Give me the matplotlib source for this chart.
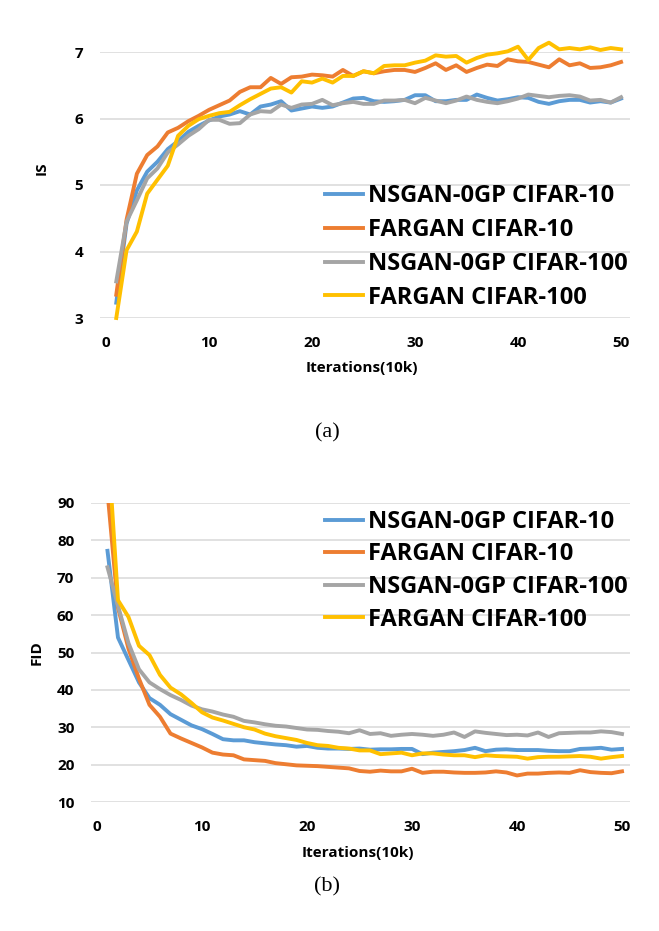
import matplotlib
matplotlib.use("Agg")
import matplotlib.pyplot as plt

plt.rcParams['font.family'] = ['Open Sans', 'DejaVu Sans']

iters = list(range(1, 51))

# IS curves (top panel)
is_nsgan_c10 = [3.23, 4.42, 4.92, 5.2, 5.35, 5.54, 5.66, 5.8, 5.89, 5.97,
                6.03, 6.06, 6.11, 6.06, 6.18, 6.21, 6.26, 6.12, 6.15, 6.18,
                6.16, 6.18, 6.24, 6.3, 6.31, 6.26, 6.25, 6.26, 6.28, 6.35,
                6.35, 6.26, 6.26, 6.28, 6.28, 6.36, 6.31, 6.27, 6.29, 6.32,
                6.31, 6.25, 6.22, 6.26, 6.28, 6.28, 6.24, 6.26, 6.24, 6.3]
is_fargan_c10 = [3.35, 4.48, 5.17, 5.45, 5.58, 5.79, 5.86, 5.96, 6.04, 6.13,
                 6.2, 6.27, 6.4, 6.47, 6.47, 6.61, 6.52, 6.62, 6.63, 6.66,
                 6.65, 6.63, 6.73, 6.64, 6.71, 6.68, 6.71, 6.73, 6.73, 6.7,
                 6.76, 6.83, 6.73, 6.8, 6.7, 6.76, 6.81, 6.79, 6.89, 6.86,
                 6.85, 6.81, 6.77, 6.89, 6.8, 6.83, 6.76, 6.77, 6.8, 6.85]
is_nsgan_c100 = [3.55, 4.45, 4.77, 5.1, 5.25, 5.49, 5.61, 5.74, 5.84, 5.98,
                 5.98, 5.92, 5.93, 6.06, 6.11, 6.1, 6.21, 6.16, 6.21, 6.22,
                 6.28, 6.2, 6.23, 6.25, 6.22, 6.22, 6.27, 6.27, 6.28, 6.23,
                 6.31, 6.27, 6.23, 6.27, 6.33, 6.28, 6.25, 6.23, 6.26, 6.3,
                 6.36, 6.34, 6.32, 6.34, 6.35, 6.33, 6.27, 6.28, 6.24, 6.32]
is_fargan_c100 = [3.0, 4.02, 4.3, 4.87, 5.08, 5.29, 5.74, 5.89, 5.99, 6.04,
                  6.08, 6.1, 6.2, 6.29, 6.37, 6.45, 6.47, 6.39, 6.56, 6.54,
                  6.6, 6.54, 6.64, 6.64, 6.71, 6.68, 6.79, 6.8, 6.8, 6.84,
                  6.87, 6.95, 6.93, 6.94, 6.84, 6.91, 6.96, 6.98, 7.01, 7.08,
                  6.88, 7.06, 7.14, 7.04, 7.06, 7.04, 7.07, 7.03, 7.06, 7.04]

# FID curves (bottom panel)
fid_nsgan_c10 = [77.2, 54, 48, 42, 37.8, 36, 33.5, 32, 30.5, 29.5,
                 28.2, 26.8, 26.5, 26.5, 26, 25.7, 25.4, 25.2, 24.8, 25,
                 24.5, 24.3, 24.3, 24.2, 24.3, 24.0, 24.1, 24.1, 24.2, 24.2,
                 22.8, 23.2, 23.4, 23.6, 23.9, 24.5, 23.6, 24.0, 24.1, 23.9,
                 23.9, 23.9, 23.7, 23.6, 23.6, 24.2, 24.3, 24.5, 24.0, 24.2]
fid_fargan_c10 = [93, 62, 51, 43, 36, 32.8, 28.3, 27, 25.8, 24.6,
                  23.2, 22.7, 22.5, 21.4, 21.2, 21, 20.4, 20.1, 19.8, 19.7,
                  19.6, 19.4, 19.2, 19.0, 18.3, 18.1, 18.4, 18.2, 18.2, 18.9,
                  17.8, 18.1, 18.1, 17.9, 17.8, 17.8, 17.9, 18.2, 17.9, 17.1,
                  17.6, 17.6, 17.8, 17.9, 17.8, 18.5, 18.0, 17.8, 17.7, 18.2]
fid_nsgan_c100 = [72.8, 62.5, 52.5, 45.5, 42, 40.2, 38.6, 37.3, 35.8, 34.8,
                  34.2, 33.4, 32.8, 31.7, 31.3, 30.8, 30.4, 30.2, 29.8, 29.4,
                  29.3, 29.0, 28.8, 28.4, 29.2, 28.2, 28.4, 27.7, 28.0, 28.2,
                  28.0, 27.7, 28.0, 28.6, 27.4, 28.9, 28.5, 28.2, 27.9, 28.0,
                  27.8, 28.6, 27.4, 28.4, 28.5, 28.6, 28.6, 28.9, 28.7, 28.2]
fid_fargan_c100 = [108, 64, 59.5, 51.8, 49.3, 44, 40.6, 38.8, 36.5, 34,
                   32.6, 31.8, 30.9, 30, 29.4, 28.3, 27.6, 27.1, 26.6, 25.8,
                   25.2, 25.0, 24.5, 24.3, 23.8, 23.8, 22.8, 23.0, 23.2, 22.5,
                   23.0, 23.0, 22.7, 22.5, 22.5, 22.0, 22.5, 22.3, 22.2, 22.1,
                   21.6, 22.0, 22.1, 22.1, 22.2, 22.3, 22.1, 21.6, 22.0, 22.3]

labels = ['NSGAN-0GP CIFAR-10', 'FARGAN CIFAR-10',
          'NSGAN-0GP CIFAR-100', 'FARGAN CIFAR-100']
colors = ['#5B9BD5', '#ED7D31', '#A5A5A5', '#FFC000']

W, H = 659, 931
fig = plt.figure(figsize=(W / 100, H / 100), dpi=100)


def style_axes(ax, yticks):
    for s in ax.spines.values():
        s.set_visible(False)
    ax.set_yticks(yticks)
    ax.set_xticks([0, 10, 20, 30, 40, 50])
    ax.grid(axis='y', color='#D9D9D9', linewidth=1.1)
    ax.set_axisbelow(True)
    ax.tick_params(length=0, labelsize=11)
    ax.tick_params(axis='x', pad=13)
    ax.tick_params(axis='y', pad=12)
    for t in ax.get_xticklabels() + ax.get_yticklabels():
        t.set_fontweight('bold')


def add_legend(ax, top_px, spacing):
    ax.legend(loc='upper left', bbox_to_anchor=(325 / W, 1 - top_px / H),
              bbox_transform=fig.transFigure, frameon=False, borderpad=0,
              borderaxespad=0, handlelength=1.6, handletextpad=0.2,
              labelspacing=spacing, prop={'weight': 'bold', 'size': 17})


# top panel: IS
ax1 = fig.add_axes([100 / W, 1 - 318 / H, 530 / W, 266 / H])
series_is = [is_nsgan_c10, is_fargan_c10, is_nsgan_c100, is_fargan_c100]
for ys, c, lab in zip(series_is, colors, labels):
    ax1.plot(iters, ys, color=c, lw=2.8, label=lab, clip_on=False,
             solid_joinstyle='round')
ax1.set_xlim(-0.58, 50.87)
ax1.set_ylim(3, 7)
style_axes(ax1, [3, 4, 5, 6, 7])
add_legend(ax1, 184, 0.42)
fig.text(42 / W, 1 - 168 / H, 'IS', rotation=90, ha='center', va='center',
         fontsize=11, fontweight='bold')
fig.text(362 / W, 1 - 368 / H, 'Iterations(10k)', ha='center', va='center',
         fontsize=11, fontweight='bold')
fig.text(327 / W, 1 - 433 / H, '(a)', ha='center', va='center',
         fontsize=16, family='Liberation Serif')

# bottom panel: FID
ax2 = fig.add_axes([91 / W, 1 - 802 / H, 539 / W, 299 / H])
series_fid = [fid_nsgan_c10, fid_fargan_c10, fid_nsgan_c100, fid_fargan_c100]
for ys, c, lab in zip(series_fid, colors, labels):
    ax2.plot(iters, ys, color=c, lw=2.8, label=lab, solid_joinstyle='round')
ax2.set_xlim(-0.57, 50.76)
ax2.set_ylim(10, 90)
style_axes(ax2, [10, 20, 30, 40, 50, 60, 70, 80, 90])
add_legend(ax2, 510, 0.36)
fig.text(37 / W, 1 - 653 / H, 'FID', rotation=90, ha='center', va='center',
         fontsize=11, fontweight='bold')
fig.text(358 / W, 1 - 853 / H, 'Iterations(10k)', ha='center', va='center',
         fontsize=11, fontweight='bold')
fig.text(327 / W, 1 - 887 / H, '(b)', ha='center', va='center',
         fontsize=16, family='Liberation Serif')

fig.savefig('out.png', dpi=100)
